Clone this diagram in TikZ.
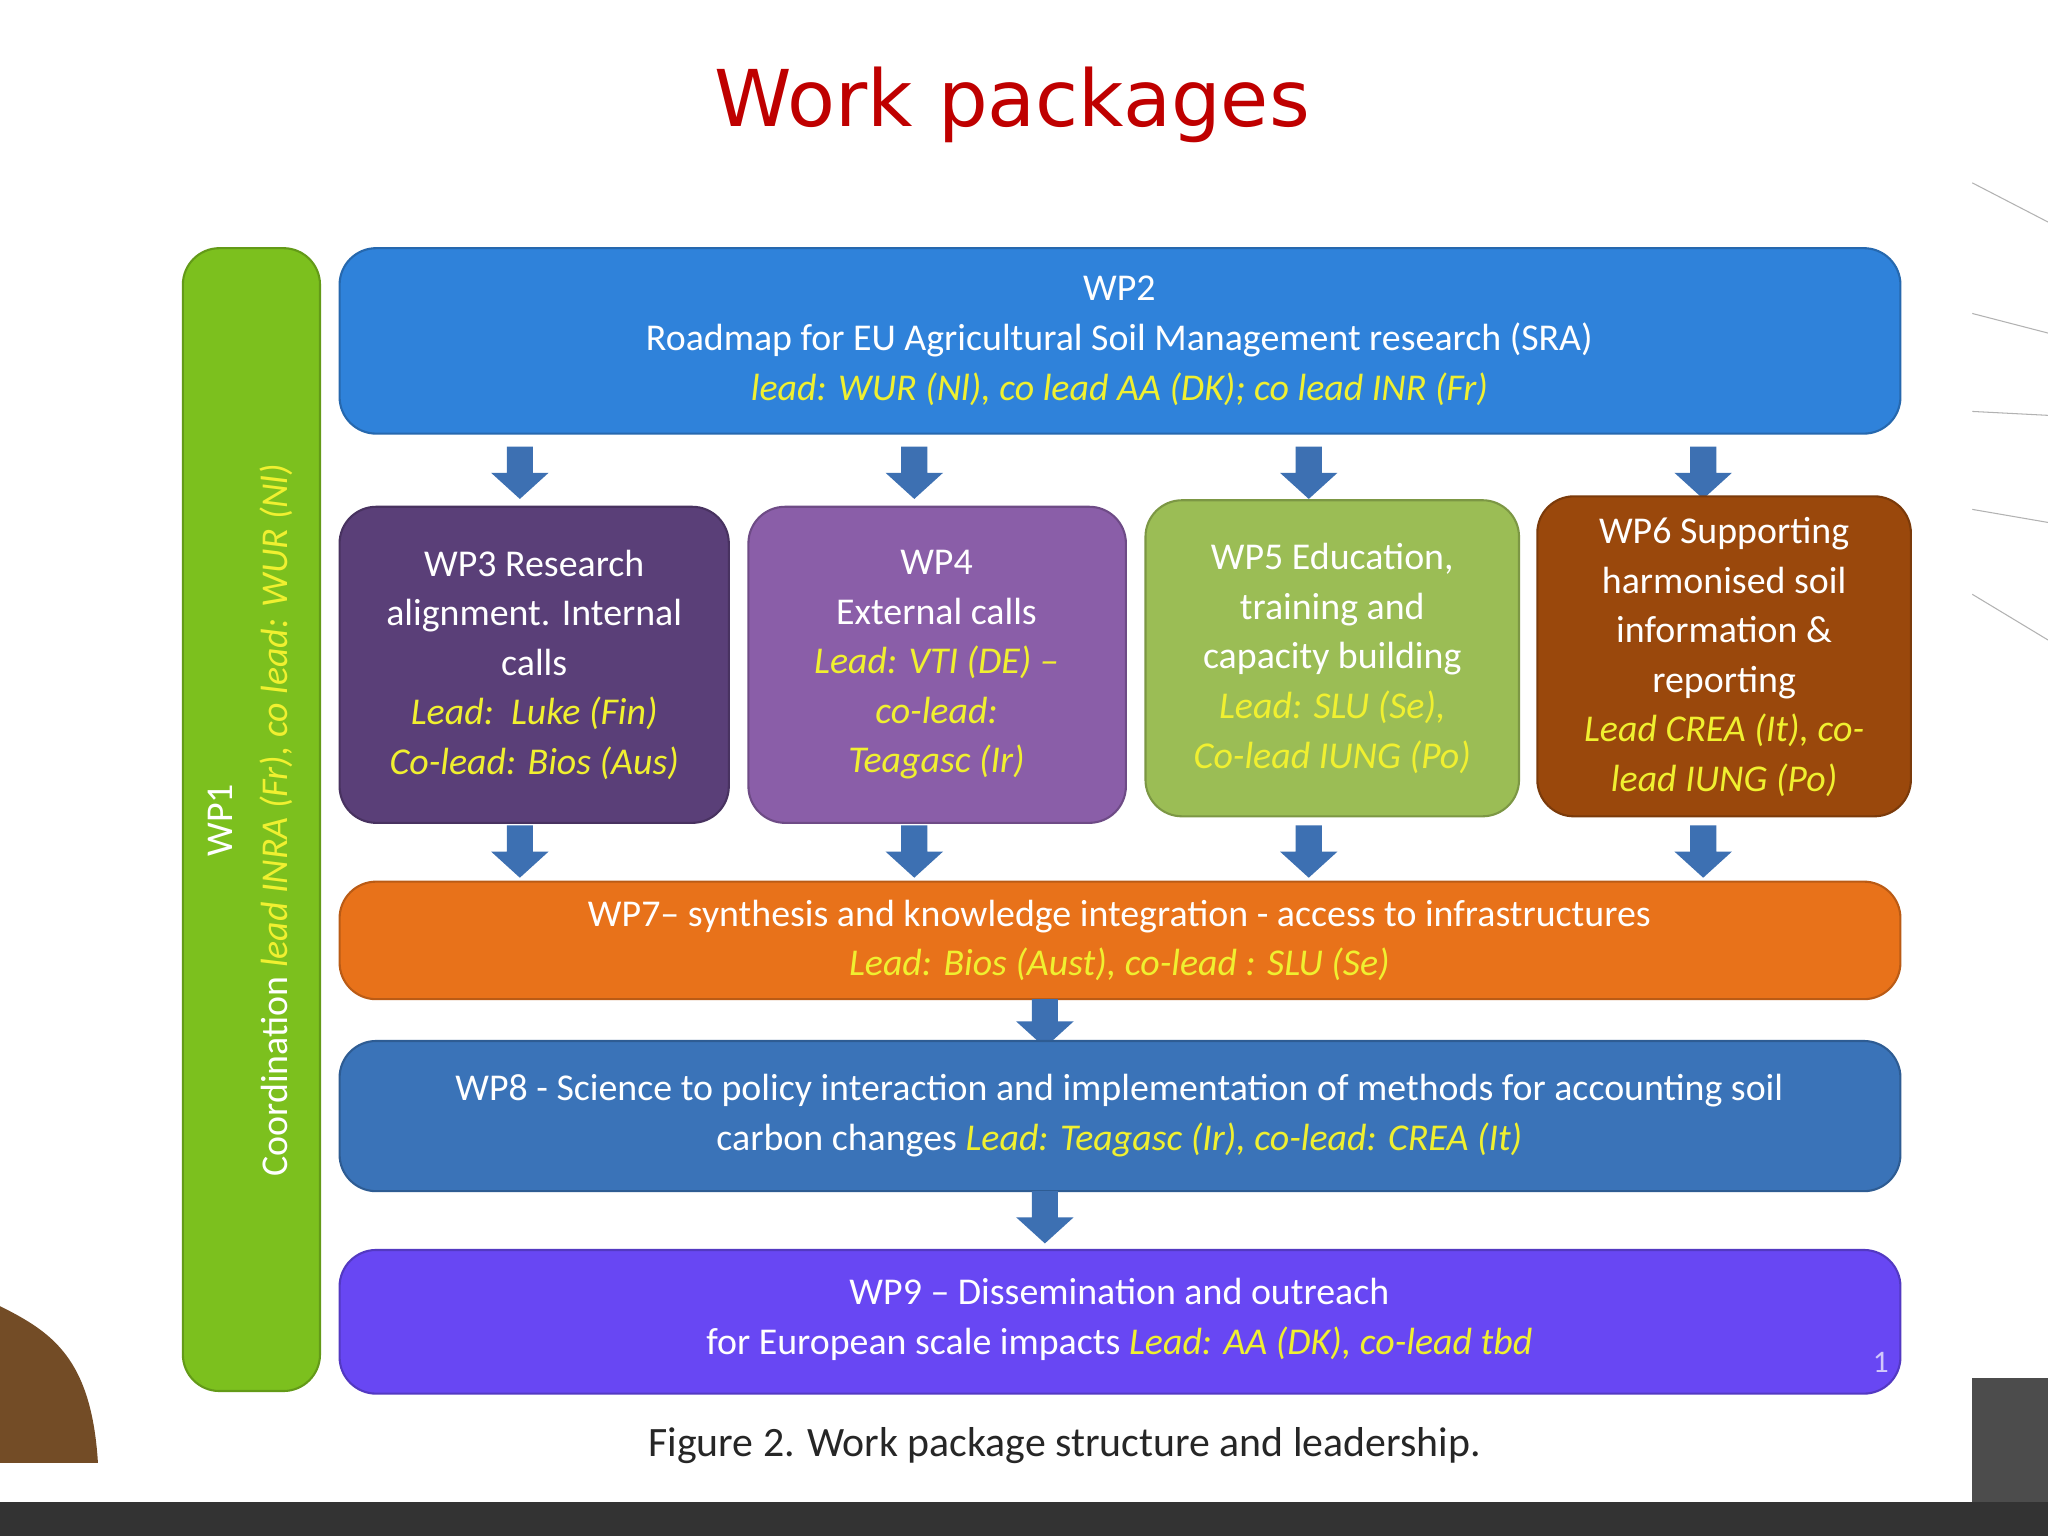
\documentclass[tikz,border=0pt]{standalone}
\usepackage{fontspec}
\setmainfont{Carlito}
\newfontfamily\titlefont{DejaVu Sans}
\definecolor{ylw}{HTML}{F0F030}
\definecolor{wpone}{HTML}{7CC01E}
\definecolor{wptwo}{HTML}{2F82DA}
\definecolor{wpthree}{HTML}{5A3F78}
\definecolor{wpfour}{HTML}{8A5EA8}
\definecolor{wpfive}{HTML}{9BBD55}
\definecolor{wpsix}{HTML}{9A480C}
\definecolor{wpseven}{HTML}{E8721A}
\definecolor{wpeight}{HTML}{3A73B8}
\definecolor{wpnine}{HTML}{6847F3}
\definecolor{arr}{HTML}{3D70B2}
\tikzset{
 wpbox/.style={rounded corners=14pt, draw=#1!80!black, fill=#1, line width=0.8pt},
 wptext/.style={text=white, font=\fontsize{14.5}{19}\selectfont, align=center},
}
\newcommand\ylead[1]{{\color{ylw}\itshape #1}}
\newcommand\blockarrow[3]{% x, ytop, ybottom
 \fill[arr] (#1-10,#2) -- (#1+10,#2) -- (#1+10,#3-20) -- (#1+22,#3-20) -- (#1,#3) -- (#1-22,#3-20) -- (#1-10,#3-20) -- cycle;}
\begin{document}
\begin{tikzpicture}[x=0.5pt,y=-0.5pt]
\useasboundingbox (0,0) rectangle (1568,1176);
\fill[white] (0,0) rectangle (1568,1176);
% decorations
\fill[black!80] (0,1150) rectangle (1568,1176);
\fill[black!70] (1510,1055) rectangle (1568,1150);
\fill[brown!60!black] (0,1000) .. controls (40,1020) and (70,1040) .. (75,1120) -- (0,1120) -- cycle;
\foreach \a/\b in {140/170,240/255,315/318,390/400,455/490}{
 \draw[black!30] (1510,\a) -- (1568,\b);}
\fill[white] (75,170) rectangle (1510,1150);
\node[font=\titlefont\fontsize{30}{34}\selectfont, text=red!75!black] (title) at (775,80) {Work packages};
% WP1
\draw[wpbox=wpone] (140,190) rectangle (245,1065);
\node[rotate=90, wptext, font=\fontsize{14.5}{21}\selectfont] (wp1) at (192,628) {WP1\\Coordination \ylead{lead INRA (Fr), co lead: WUR (Nl)}};
% WP2
\draw[wpbox=wptwo] (260,190) rectangle (1455,332);
\node[wptext] (wp2) at (857,261) {WP2\\Roadmap for EU Agricultural Soil Management research (SRA)\\\ylead{lead: WUR (Nl), co lead AA (DK); co lead INR (Fr)}};
% arrows row 1
\foreach \x in {398,700,1002,1304}{\blockarrow{\x}{342}{382}}
% WP3-6
\draw[wpbox=wpthree] (260,388) rectangle (558,630);
\node[wptext] (wp3) at (409,509) {WP3 Research\\alignment. Internal\\calls\\\ylead{Lead:\ \ Luke (Fin)}\\\ylead{Co-lead: Bios (Aus)}};
\draw[wpbox=wpfour] (573,388) rectangle (862,630);
\node[wptext] (wp4) at (717,509) {WP4\\External calls\\\ylead{Lead: VTI (DE) --}\\\ylead{co-lead:}\\\ylead{Teagasc (Ir)}};
\draw[wpbox=wpfive] (877,383) rectangle (1163,625);
\node[wptext] (wp5) at (1020,504) {WP5 Education,\\training and\\capacity building\\\ylead{Lead: SLU (Se),}\\\ylead{Co-lead IUNG (Po)}};
\draw[wpbox=wpsix] (1177,380) rectangle (1463,625);
\node[wptext] (wp6) at (1320,503) {WP6 Supporting\\harmonised soil\\information \&\\reporting\\\ylead{Lead CREA (It), co-}\\\ylead{lead IUNG (Po)}};
\foreach \x in {398,700,1002,1304}{\blockarrow{\x}{632}{672}}
% WP7
\draw[wpbox=wpseven] (260,675) rectangle (1455,765);
\node[wptext] (wp7) at (857,720) {WP7-- synthesis and knowledge integration - access to infrastructures\\\ylead{Lead: Bios (Aust), co-lead : SLU (Se)}};
\blockarrow{800}{765}{802}
% WP8
\draw[wpbox=wpeight] (260,797) rectangle (1455,912);
\node[wptext] (wp8) at (857,854) {WP8 - Science to policy interaction and implementation of methods for accounting soil\\carbon changes \ylead{Lead: Teagasc (Ir), co-lead: CREA (It)}};
\blockarrow{800}{912}{952}
% WP9
\draw[wpbox=wpnine] (260,957) rectangle (1455,1067);
\node[wptext] (wp9) at (857,1010) {WP9 -- Dissemination and outreach\\for European scale impacts \ylead{Lead: AA (DK), co-lead tbd}};
\node[text=white!70!wpnine, font=\fontsize{12}{12}\selectfont] (pg) at (1440,1043) {1};
\node[font=\fontsize{16}{18}\selectfont, text=black!85] (cap) at (815,1107) {Figure 2. Work package structure and leadership.};
\end{tikzpicture}
\end{document}
